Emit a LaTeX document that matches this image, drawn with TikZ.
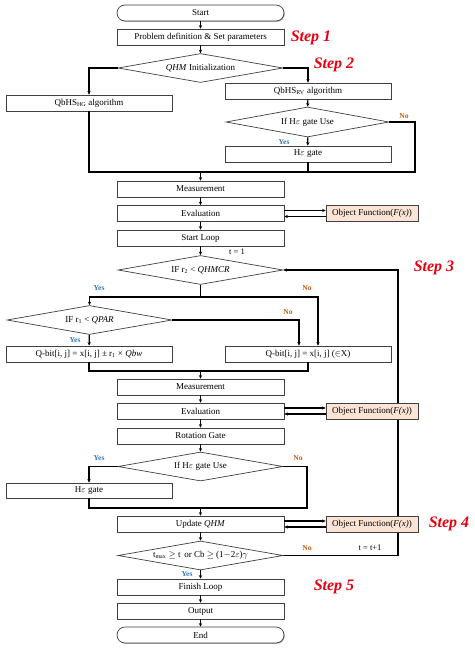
\documentclass[tikz,border=0pt]{standalone}
\usepackage{fontspec}
\setmainfont{Liberation Serif}
\usetikzlibrary{shapes.geometric,arrows.meta,backgrounds,shadows}

\definecolor{objfill}{RGB}{251,228,213}
\definecolor{yescol}{RGB}{46,117,182}
\definecolor{nocol}{RGB}{197,90,17}
\definecolor{steprd}{RGB}{230,0,18}

\tikzset{
	box/.style={draw=black!75, line width=0.7pt, fill=white, minimum width=167pt, minimum height=16pt,
		inner sep=1pt, font=\fontsize{9}{10}\selectfont,
		drop shadow={shadow xshift=0.8pt, shadow yshift=-0.8pt, opacity=0.45, fill=black!70}},
	halfbox/.style={box, minimum width=166pt},
	termbox/.style={box, rounded corners=8pt},
	objbox/.style={box, fill=objfill, minimum width=92pt},
	decision/.style={diamond, draw=black!75, line width=0.7pt, fill=white, minimum width=165pt,
		minimum height=29pt, aspect=5.6, inner sep=0pt, font=\fontsize{9}{10}\selectfont},
	line/.style={line width=1.2pt},
	arr/.style={line, -{Stealth[length=3.5pt,width=3.2pt]}},
	yeslbl/.style={font=\fontsize{7.5}{8}\selectfont\bfseries, text=yescol},
	nolbl/.style={font=\fontsize{7.5}{8}\selectfont\bfseries, text=nocol},
	tlbl/.style={font=\fontsize{8.5}{9}\selectfont},
	steplbl/.style={font=\fontsize{16}{18}\selectfont\bfseries\itshape, text=steprd}
}

\begin{document}
\begin{tikzpicture}[x=1pt,y=-1pt]

	\useasboundingbox (0,0) rectangle (474,648);

	% step 1 & 2
	\node[termbox] (start) at (200.5,13) {Start};
	\node[box] (prob) at (200.5,37) {Problem definition \& Set parameters};
	\node[decision] (init) at (200.5,68) {\textit{QHM} Initialization};
	\node[halfbox] (hg) at (89,103) {QbHS\textsubscript{HG} algorithm};
	\node[halfbox] (rv) at (308,91) {QbHS\textsubscript{RV} algorithm};
	\node[decision, minimum width=163pt, minimum height=30pt] (use1) at (307.5,122) {If H$\varepsilon$ gate Use};
	\node[halfbox] (gate1) at (308,154) {H$\varepsilon$ gate};
	\node[box] (meas1) at (200.5,189) {Measurement};
	\node[box] (eval1) at (200.5,213.5) {Evaluation};
	\node[objbox] (obj1) at (372,213.5) {Object Function(\textit{F(x)})};
	\node[box] (sloop) at (200.5,238) {Start Loop};

	% step 3
	\node[decision] (cond1) at (200.5,270) {IF r\textsubscript{2} < \textit{QHMCR}};
	\node[decision] (cond2) at (89.5,320) {IF r\textsubscript{1} < \textit{QPAR}};
	\node[halfbox] (ql) at (89,354) {Q-bit[i, j] = x[i, j] ± r\textsubscript{1} × \textit{Qbw}};
	\node[halfbox] (qr) at (308,354) {Q-bit[i, j] = x[i, j] ($\in$X)};
	\node[box] (meas2) at (200.5,387) {Measurement};
	\node[box] (eval2) at (200.5,411) {Evaluation};
	\node[objbox] (obj2) at (372,411) {Object Function(\textit{F(x)})};
	\node[box] (rot) at (200.5,436) {Rotation Gate};
	\node[decision] (use2) at (200.5,466.5) {If H$\varepsilon$ gate Use};
	\node[halfbox, minimum height=15pt] (gate2) at (89,490.5) {H$\varepsilon$ gate};

	% step 4 & 5
	\node[box] (update) at (200.5,524) {Update \textit{QHM}};
	\node[objbox] (obj3) at (372,524) {Object Function(\textit{F(x)})};
	\node[decision] (termd) at (200.5,555.5) {t\textsubscript{max} $\geq$ t\, or Cb $\geq$ (1$-$2$\varepsilon$)$\gamma$};
	\node[box] (finish) at (200.5,587) {Finish Loop};
	\node[box] (output) at (200.5,611) {Output};
	\node[termbox] (endn) at (200.5,635) {End};

	\node[steplbl] at (311,38) {Step 1};
	\node[steplbl] at (334,65) {Step 2};
	\node[steplbl] at (434,268) {Step 3};
	\node[steplbl] at (449,524) {Step 4};
	\node[steplbl] at (334,587) {Step 5};

	\coordinate (m1) at (200.5,172);
	\coordinate (no1) at (415,122);
	\coordinate (s1) at (200.5,297);
	\coordinate (m2) at (200.5,371);
	\coordinate (no3) at (307,466.5);
	\coordinate (m3) at (200.5,508);
	\coordinate (lp) at (398,555.5);

	\draw[arr] (start) -- (prob);
	\draw[arr] (prob) -- (init);
	\draw[arr] (init.west) -| (hg);
	\draw[arr] (init.east) -| (rv);
	\draw[arr] (rv) -- (use1);
	\draw[arr] (use1) -- (gate1);
	\draw[line] (use1.east) -- (no1) |- (m1);
	\draw[line] (hg.south) |- (m1);
	\draw[line] (gate1.south) -- (gate1.south |- m1);
	\draw[arr] (m1) -- (meas1);
	\draw[arr] (meas1) -- (eval1);
	\draw[arr] ([yshift=3pt]eval1.east) -- ([yshift=3pt]obj1.west);
	\draw[arr] ([yshift=-3pt]obj1.west) -- ([yshift=-3pt]eval1.east);
	\draw[arr] (eval1) -- (sloop);
	\draw[arr] (sloop) -- (cond1);

	\draw[line] (cond1.south) -- (s1);
	\draw[arr] (s1) -| (cond2);
	\draw[arr] (s1) -| ([xshift=10pt]qr.north);
	\draw[arr] (cond2.east) -| ([xshift=-9pt]qr.north);
	\draw[arr] (cond2) -- (ql);
	\draw[line] (ql.south) |- (m2);
	\draw[line] (qr.south) |- (m2);
	\draw[arr] (m2) -- (meas2);
	\draw[arr] (meas2) -- (eval2);
	\draw[arr] ([yshift=3pt]eval2.east) -- ([yshift=3pt]obj2.west);
	\draw[arr] ([yshift=-3pt]obj2.west) -- ([yshift=-3pt]eval2.east);
	\draw[arr] (eval2) -- (rot);
	\draw[arr] (rot) -- (use2);
	\draw[arr] (use2.west) -| (gate2);
	\draw[line] (use2.east) -- (no3) |- (m3);
	\draw[line] (gate2.south) |- (m3);
	\draw[arr] (m3) -- (update);

	\draw[arr] ([yshift=3pt]update.east) -- ([yshift=3pt]obj3.west);
	\draw[arr] ([yshift=-3pt]obj3.west) -- ([yshift=-3pt]update.east);
	\draw[arr] (update) -- (termd);
	\draw[arr] (termd) -- (finish);
	\draw[arr] (finish) -- (output);
	\draw[arr] (output) -- (endn);
	\begin{pgfonlayer}{background}
		\draw[arr] (termd.east) -- (lp) |- (cond1.east);
	\end{pgfonlayer}

	% yes / no
	\node[nolbl] at (404,116) {No};
	\node[yeslbl] at (284,142) {Yes};
	\node[tlbl] at (237,252) {t = 1};
	\node[yeslbl] at (99,288) {Yes};
	\node[nolbl] at (307,288) {No};
	\node[nolbl] at (288,312) {No};
	\node[yeslbl] at (75,340) {Yes};
	\node[yeslbl] at (99,458) {Yes};
	\node[nolbl] at (298,458) {No};
	\node[nolbl] at (307,548) {No};
	\node[tlbl] at (370,548) {t = t+1};
	\node[yeslbl] at (187,574) {Yes};

\end{tikzpicture}
\end{document}
